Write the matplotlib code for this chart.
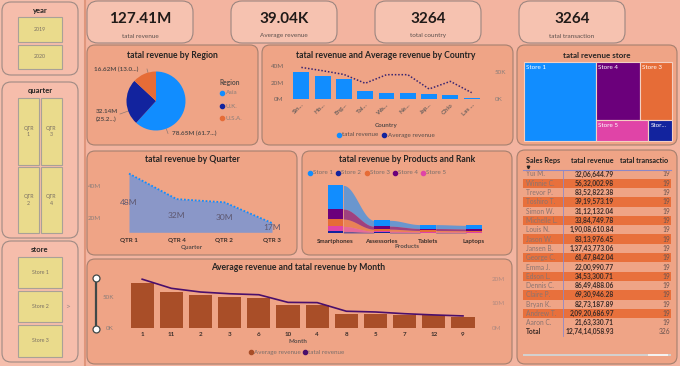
import matplotlib
matplotlib.use('Agg')
import matplotlib.pyplot as plt
from matplotlib.patches import FancyBboxPatch, Rectangle, Polygon
import numpy as np

plt.rcParams['font.family'] = ['Lato', 'DejaVu Sans']

W, H = 680, 366

# ---- data ----
kpi_values = ['127.41M', '39.04K', '3264', '3264']
kpi_labels = ['tatal revenue', 'Average revenue', 'total country', 'tatal transaction']

years = ['2019', '2020']
quarter_buttons = ['QTR\n1', 'QTR\n3', 'QTR\n2', 'QTR\n4']
store_buttons = ['Store 1', 'Store 2', 'Store 3']

regions = ['Asia', 'U.K.', 'U.S.A.']
region_revenue = [78.65, 32.14, 16.62]  # M

countries = ['Sin...', 'Ho...', 'Eng...', 'Tai...', 'Wa...', 'Ne...', 'Jap...', 'Ohio', 'Las ...']
country_revenue = [32.8, 28.0, 24.0, 10.4, 8.0, 8.0, 6.8, 5.6, 1.6]  # M
country_avg = [57.8, 51.8, 45.0, 29.0, 44.6, 44.6, 18.7, 32.5, 12.0]  # K

stores = ['Store 1', 'Store 2', 'Store 3', 'Store 4', 'Store 5']
store_revenue = [61.8, 5.4, 20.1, 28.0, 12.1]  # M

quarters = ['QTR 1', 'QTR 4', 'QTR 2', 'QTR 3']
quarter_revenue = [48, 32, 30, 17]  # M

products = ['Smartphones', 'Assessories', 'Tablets', 'Laptops']
prod_store1 = [39.5, 9.8, 6.5, 6.0]
prod_store2 = [2.8, 1.2, 0.8, 0.7]
prod_store3 = [12.2, 3.5, 2.3, 2.1]
prod_store4 = [16.7, 5.0, 3.3, 3.0]
prod_store5 = [8.3, 1.7, 1.1, 1.0]

months = ['1', '11', '2', '3', '6', '10', '4', '8', '5', '7', '12', '9']
month_avg = [72, 58, 52, 49.5, 48, 37, 37, 23, 23, 21, 20, 17.5]  # K
month_total = [19.8, 16.1, 14.6, 13.9, 13.5, 10.4, 10.3, 6.8, 6.5, 5.8, 5.3, 4.9]  # M

reps = ['Yui M.', 'Winnie C.', 'Trevor P.', 'Toshiro T.', 'Simon W.', 'Michelle L.',
        'Louis N.', 'Jason W.', 'Jansen B.', 'George C.', 'Emma J.', 'Edson L.',
        'Dennis C.', 'Claire P.', 'Bryan K.', 'Andrew T.', 'Aaron C.']
rep_revenue = [3206644.79, 5632002.98, 8352822.38, 3919573.19, 3112132.04, 3384749.78,
               19008610.84, 8313976.45, 13743773.06, 6147842.04, 2200990.77, 3453300.71,
               8649488.06, 6930946.28, 8273187.89, 20920686.97, 2163330.71]
rep_transactions = [19] * 17
rep_total_revenue = 127414058.93
rep_total_transactions = 326

store_colors = {'Store 1': '#118DFF', 'Store 2': '#12239E', 'Store 3': '#E66C37',
                'Store 4': '#6B007B', 'Store 5': '#E044A7'}
region_colors = ['#118DFF', '#12239E', '#E66C37']

TITLE = '#252423'
GRAY = '#6E625E'
PANEL = '#EFA486'
PANEL_EDGE = '#A5806F'


def inr(v):
    s = f"{v:.2f}"
    ip, dp = s.split('.')
    if len(ip) > 3:
        rest, last = ip[:-3], ip[-3:]
        groups = []
        while len(rest) > 2:
            groups.insert(0, rest[-2:])
            rest = rest[:-2]
        if rest:
            groups.insert(0, rest)
        ip = ','.join(groups + [last])
    return ip + '.' + dp


def squarify(values, x, y, w, h):
    total = sum(values)
    areas = [v * w * h / total for v in values]
    rects = []

    def worst(row, side):
        s = sum(row)
        return max(max(side * side * r / (s * s), s * s / (side * side * r)) for r in row)

    def layout(row, x, y, w, h):
        s = sum(row)
        out = []
        if w >= h:
            cw = s / h
            yy = y
            for r in row:
                out.append((x, yy, cw, r / cw))
                yy += r / cw
            return out, (x + cw, y, w - cw, h)
        rh = s / w
        xx = x
        for r in row:
            out.append((xx, y, r / rh, rh))
            xx += r / rh
        return out, (x, y + rh, w, h - rh)

    row = []
    i = 0
    while i < len(areas):
        side = min(w, h)
        if not row or worst(row + [areas[i]], side) <= worst(row, side):
            row.append(areas[i])
            i += 1
        else:
            out, (x, y, w, h) = layout(row, x, y, w, h)
            rects += out
            row = []
    if row:
        out, _ = layout(row, x, y, w, h)
        rects += out
    return rects


fig = plt.figure(figsize=(W / 100, H / 100), dpi=100)
fig.patch.set_facecolor('#F3B4A0')
bg = fig.add_axes([0, 0, 1, 1], zorder=0)
bg.set_xlim(0, W)
bg.set_ylim(H, 0)
bg.axis('off')


def box(x0, y0, x1, y1, fc, ec, r=8, lw=0.8, z=1):
    bg.add_patch(FancyBboxPatch((x0, y0), x1 - x0, y1 - y0,
                                boxstyle=f'round,pad=0,rounding_size={r}',
                                fc=fc, ec=ec, lw=lw, zorder=z))


def px_axes(x0, y0, x1, y1):
    ax = fig.add_axes([x0 / W, 1 - y1 / H, (x1 - x0) / W, (y1 - y0) / H], zorder=2)
    ax.patch.set_alpha(0)
    for s in ax.spines.values():
        s.set_visible(False)
    ax.tick_params(length=0, labelsize=4.5, labelcolor=GRAY)
    return ax


def title(x, y, s, size=6.2):
    bg.text(x, y, s, ha='center', va='center', fontsize=size, fontweight='bold', color=TITLE)


# ---- backgrounds ----
bg.add_patch(Rectangle((0, 0), 84, H, fc='#F5BEAC', ec='none', zorder=0))
bg.plot([84.5, 84.5], [0, H], color='#E0967C', lw=1.5, zorder=0)

# ---- slicers ----
BTN = '#EADB8C'
BTN_EDGE = '#A9A197'
box(2, 2, 78, 75, '#F6BDAB', '#9E8A84', r=9)
title(40, 10, 'year', 5.5)
for (y0, y1), lab in zip([(17, 42), (45, 69)], years):
    bg.add_patch(Rectangle((18, y0), 44, y1 - y0, fc=BTN, ec=BTN_EDGE, lw=0.8, zorder=2))
    bg.text(40, (y0 + y1) / 2, lab, ha='center', va='center', fontsize=3.8, color='#7A7064', zorder=3)

box(2, 82, 78, 238, '#F6BDAB', '#9E8A84', r=9)
title(40, 91, 'quarter', 5.5)
qpos = [(18, 98, 39, 165), (41, 98, 62, 165), (18, 167, 39, 233), (41, 167, 62, 233)]
for (x0, y0, x1, y1), lab in zip(qpos, quarter_buttons):
    bg.add_patch(Rectangle((x0, y0), x1 - x0, y1 - y0, fc=BTN, ec=BTN_EDGE, lw=0.8, zorder=2))
    bg.text((x0 + x1) / 2, (y0 + y1) / 2, lab, ha='center', va='center', fontsize=3.8,
            color='#7A7064', linespacing=1.3, zorder=3)

box(2, 241, 78, 362, '#F6BDAB', '#9E8A84', r=9)
title(40, 250, 'store', 5.5)
for (y0, y1), lab in zip([(257, 288), (291, 322), (325, 357)], store_buttons):
    bg.add_patch(Rectangle((18, y0), 44, y1 - y0, fc=BTN, ec=BTN_EDGE, lw=0.8, zorder=2))
    bg.text(40, (y0 + y1) / 2, lab, ha='center', va='center', fontsize=3.8, color='#7A7064', zorder=3)
bg.text(68, 306, '>', ha='center', va='center', fontsize=6, color='#A08C86')

# ---- KPI cards ----
for cx, val, lab in zip([140, 284, 428, 572], kpi_values, kpi_labels):
    box(cx - 53, 1, cx + 53, 43, '#F6C2B0', '#9C8680', r=11)
    bg.text(cx, 19, val, ha='center', va='center', fontsize=11, fontweight='bold', color='#201A18')
    bg.text(cx, 36, lab, ha='center', va='center', fontsize=4.6, color='#5C504C')

# ---- chart panels ----
box(87, 45, 258, 145, PANEL, PANEL_EDGE)
box(262, 45, 513, 145, PANEL, PANEL_EDGE)
box(517, 45, 677, 145, PANEL, PANEL_EDGE)
box(87, 151, 297, 255, PANEL, PANEL_EDGE)
box(302, 151, 512, 255, PANEL, PANEL_EDGE)
box(517, 150, 677, 364, PANEL, PANEL_EDGE)
box(87, 259, 512, 364, PANEL, PANEL_EDGE)

# ---- pie: revenue by region ----
title(172, 56, 'tatal revenue by Region')
pax = px_axes(126.5, 71.5, 185.5, 130.5)
pax.pie(region_revenue, colors=region_colors, startangle=90, counterclock=False, radius=1)
pax.set_xlim(-1, 1)
pax.set_ylim(-1, 1)
total_region = sum(region_revenue)
pie_cx, pie_cy, pie_r = 156, 101, 29.5
label_pos = [(172, 133.5, 168, 133.5), (96, 115.5, 120, 114), (94, 69, 147, 69)]
for v, (tx, ty, lx, ly) in zip(region_revenue, label_pos):
    txt = f"{v:.2f}M ({100 * v / total_region:.1f}...)"
    if tx < pie_cx and ty > pie_cy:
        txt = txt.replace(' (', '\n(')
    bg.text(tx, ty, txt, ha='left', va='center', fontsize=4.6, fontweight='bold',
            color='#5A4E4A', linespacing=1.4)
    d = np.array([lx - pie_cx, ly - pie_cy])
    e = np.array([pie_cx, pie_cy]) + pie_r * d / np.hypot(*d)
    bg.plot([e[0], lx], [e[1], ly], color='#8E7A74', lw=0.5)
bg.text(219, 83, 'Region', ha='left', va='center', fontsize=4.8, fontweight='bold', color='#5A4E4A')
for ly, lab, c in zip([93, 106, 118], regions, region_colors):
    bg.plot(222, ly, 'o', ms=3, color=c)
    bg.text(226, ly, lab, ha='left', va='center', fontsize=4.5, color='#8A7E7A')

# ---- country chart ----
title(386, 56, 'tatal revenue and Average revenue by Country')
cax = px_axes(290.7, 62, 482.3, 99.3)
xc = np.arange(len(countries))
cax.bar(xc, country_revenue, width=0.74, color='#118DFF')
cax.set_xlim(-0.5, len(countries) - 0.5)
cax.set_ylim(0, 44.8)
cax.set_yticks([0, 20, 40], ['0M', '20M', '40M'])
cax.set_xticks(xc, countries, rotation=45, ha='right', rotation_mode='anchor', fontweight='bold')
cax.tick_params(axis='y', pad=5)
cax.tick_params(axis='x', pad=2)
cax2 = cax.twinx()
for s in cax2.spines.values():
    s.set_visible(False)
cax2.plot(xc, country_avg, ls=(0, (1, 1.2)), color='#3A2570', lw=1.1)
cax2.set_ylim(0, 67.6)
cax2.set_yticks([0, 50], ['0K', '50K'])
cax2.tick_params(length=0, labelsize=4.5, labelcolor='#8A7E7A', pad=9)
bg.text(386, 125, 'Country', ha='center', va='center', fontsize=4.5, fontweight='bold', color='#5A4E4A')
for dx, lab, c in [(339, 'tatal revenue', '#118DFF'), (384, 'Average revenue', '#12239E')]:
    bg.plot(dx, 135, 'o', ms=3, color=c)
    bg.text(dx + 3.5, 135, lab, ha='left', va='center', fontsize=4.5, color='#5A4E4A')

# ---- treemap ----
title(597, 55, 'tatal revenue store', 5.8)
order = sorted(range(len(stores)), key=lambda i: -store_revenue[i])
rects = squarify([store_revenue[i] for i in order], 524, 61.7, 147.7, 79.3)
for i, (x, y, w, h) in zip(order, rects):
    bg.add_patch(Rectangle((x, y), w, h, fc=store_colors[stores[i]], ec='#F3CFC2', lw=0.8, zorder=2))
    lab = stores[i] if w > 30 else stores[i][:4] + '...'
    bg.text(x + 2.5, y + 6, lab, ha='left', va='center', fontsize=4.5, color='white', zorder=3)

# ---- quarter area ----
title(192, 160, 'tatal revenue by Quarter')
qax = px_axes(129, 168, 272, 232.3)
xq = np.arange(len(quarters))
qmin = 11.2
qax.fill_between(xq, quarter_revenue, qmin, color='#8A97C8', lw=0)
qax.plot(xq, quarter_revenue, ls=(0, (1, 1)), color='#118DFF', lw=1.3, clip_on=False)
qax.set_xlim(0, len(quarters) - 1)
qax.set_ylim(qmin, 51.5)
qax.set_yticks([20, 40], ['20M', '40M'])
qax.set_xticks(xq, quarters, fontweight='bold', color='#3A2E2A')
qax.tick_params(axis='y', pad=20, labelcolor='#8A7E7A')
qax.tick_params(axis='x', pad=4)
for i, v in enumerate(quarter_revenue):
    qax.text(i, (v + qmin) / 2, f'{v}M', ha='center', va='center', fontsize=6, color='#5E5870')
bg.text(192, 247, 'Quarter', ha='center', va='center', fontsize=4.5, fontweight='bold', color='#5A4E4A')

# ---- ribbon chart: products ----
title(407, 160, 'tatal revenue by Products and Rank')
prod = {'Store 1': prod_store1, 'Store 2': prod_store2, 'Store 3': prod_store3,
        'Store 4': prod_store4, 'Store 5': prod_store5}
for k, s in enumerate(stores):
    lx = 310 + k * 28.3
    bg.plot(lx, 173, 'o', ms=3, color=store_colors[s])
    bg.text(lx + 3, 173, s, ha='left', va='center', fontsize=4.5, color='#7A6E6A')
rax = px_axes(312.4, 183, 497.1, 233)
bw = 0.34
ncat = len(products)
bottoms = {s: [] for s in stores}
for c in range(ncat):
    stack = sorted(stores, key=lambda s: prod[s][c])
    b = 0
    for s in stack:
        bottoms[s].append(b)
        b += prod[s][c]
for s in stores:
    vals = prod[s]
    rax.bar(range(ncat), vals, bottom=bottoms[s], width=bw, color=store_colors[s], lw=0, zorder=3)
    for c in range(ncat - 1):
        t = np.linspace(0, 1, 30)
        sm = (1 - np.cos(np.pi * t)) / 2
        xs = c + bw / 2 + t * (1 - bw)
        lo = bottoms[s][c] + sm * (bottoms[s][c + 1] - bottoms[s][c])
        hi = lo + vals[c] + sm * (vals[c + 1] - vals[c])
        rax.fill_between(xs, lo, hi, color=store_colors[s], alpha=0.6, lw=0, zorder=2)
rax.set_xlim(-0.5, ncat - 0.5)
rax.set_ylim(0, 83.4)
rax.set_yticks([])
rax.set_xticks(range(ncat), products, fontweight='bold', color='#3A2E2A')
rax.tick_params(axis='x', pad=4)
bg.text(407, 247, 'Products', ha='center', va='center', fontsize=4.5, fontweight='bold', color='#5A4E4A')

# ---- table ----
TAB_LINE = '#8C88C8'
bg.text(526, 160.3, 'Sales Reps', ha='left', va='center', fontsize=5.2, fontweight='bold', color=TITLE)
bg.text(614, 160.3, 'tatal revenue', ha='right', va='center', fontsize=5.2, fontweight='bold', color=TITLE)
bg.text(620, 160.3, 'tatal transactio', ha='left', va='center', fontsize=5.2, fontweight='bold', color=TITLE)
bg.plot(527.5, 166.5, 'v', ms=1.8, color='#252423')
row_y0, row_h = 174, 9.3
for k, (name, rev, tr) in enumerate(zip(reps, rep_revenue, rep_transactions)):
    y = row_y0 + k * row_h
    if k % 2 == 1:
        bg.add_patch(Rectangle((523.3, y - row_h / 2), 147.7, row_h, fc='#E8703C', ec='none', zorder=1.5))
    bg.text(526, y, name, ha='left', va='center', fontsize=4.8, color='#8A7470')
    bg.text(614, y, inr(rev), ha='right', va='center', fontsize=4.8, fontweight='bold', color='#3A2A26')
    bg.text(670, y, str(tr), ha='right', va='center', fontsize=4.8, color='#6A5450')
ty = row_y0 + len(reps) * row_h - 0.7
bg.text(526, ty, 'Total', ha='left', va='center', fontsize=4.8, fontweight='bold', color='#3A2A26')
bg.text(614, ty, inr(rep_total_revenue), ha='right', va='center', fontsize=4.8, fontweight='bold', color='#3A2A26')
bg.text(670, ty, str(rep_total_transactions), ha='right', va='center', fontsize=4.8, color='#6A5450')
bg.plot([523.3, 671], [169.7, 169.7], color=TAB_LINE, lw=0.8, zorder=3)
bg.plot([563.3, 563.3], [169.7, 336], color=TAB_LINE, lw=0.6, zorder=3)
bg.add_patch(Rectangle((523.3, 353.5), 147.7, 2.6, fc='#D4D0CE', ec='none', zorder=2))
bg.add_patch(Rectangle((648, 353.5), 20, 2.6, fc='#F4F2F1', ec='none', zorder=2))

# ---- month chart ----
title(298, 267.3, 'Average revenue and tatal revenue by Month')
max_ = px_axes(127.6, 276, 477.6, 328)
xm = np.arange(len(months))
max_.bar(xm, month_avg, width=0.79, color='#A94E28')
max_.set_xlim(-0.5, len(months) - 0.5)
max_.set_ylim(0, 83)
max_.set_yticks([0, 50], ['0K', '50K'])
max_.set_xticks(xm, months, fontweight='bold', color='#3A2E2A')
max_.tick_params(axis='y', pad=10, labelcolor='#8A7E7A')
max_.tick_params(axis='x', pad=3)
max2 = max_.twinx()
for s in max2.spines.values():
    s.set_visible(False)
max2.plot(xm, month_total, color='#4A0F6B', lw=1.2)
max2.set_ylim(0, 21.1)
max2.set_yticks([0, 10, 20], ['0M', '10M', '20M'])
max2.tick_params(length=0, labelsize=4.5, labelcolor='#B08A80', pad=10)
bg.text(298, 341.7, 'Month', ha='center', va='center', fontsize=4.5, fontweight='bold', color='#5A4E4A')
for dx, lab, c in [(250.7, 'Average revenue', '#A94E28'), (305, 'tatal revenue', '#4A0F6B')]:
    bg.plot(dx, 352.3, 'o', ms=3, color=c)
    bg.text(dx + 3.5, 352.3, lab, ha='left', va='center', fontsize=4.5, color='#7A6E6A')
bg.plot([95.7, 95.7], [278, 328.7], color='#3F4848', lw=1.6, zorder=3)
bg.plot([95.7, 95.7], [278, 328.7], 'o', ms=5, mfc='white', mec='#3F4848', mew=0.9, zorder=4)

fig.savefig('out.png', dpi=100, facecolor=fig.get_facecolor())
